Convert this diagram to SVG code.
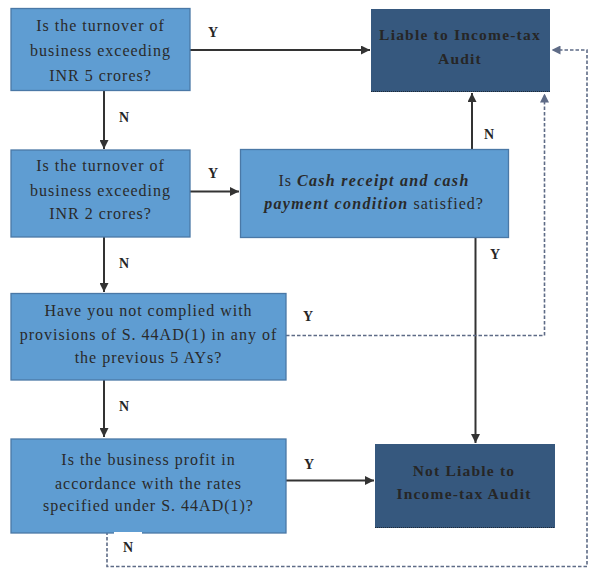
<svg xmlns="http://www.w3.org/2000/svg" width="594" height="581" viewBox="0 0 594 581">
<style>
.q{fill:#5f9dd2;stroke:#4a78a6;stroke-width:1.3}
.r{fill:#36587e}
.e{stroke:#1e2a38;stroke-width:1;stroke-dasharray:1 1}
.t{font-family:"Liberation Serif",serif;font-size:16px;fill:#2a2a2a;text-anchor:middle;letter-spacing:1px}
.tb{font-family:"Liberation Serif",serif;font-size:15.5px;font-weight:bold;fill:#262626;text-anchor:middle;letter-spacing:1.2px}
.bi{font-weight:bold;font-style:italic;letter-spacing:1.3px}
.lb{font-family:"Liberation Serif",serif;font-size:14px;font-weight:bold;fill:#262626;text-anchor:middle}
.s{fill:none;stroke:#333;stroke-width:2}
.d{fill:none;stroke:#5e6b86;stroke-width:1.6;stroke-dasharray:3.5 2}
</style>
<defs>
<marker id="a" viewBox="0 0 10 10" refX="10" refY="5" markerWidth="9" markerHeight="9" markerUnits="userSpaceOnUse" orient="auto"><path d="M0,0L10,5L0,10z" fill="#333"/></marker>
<marker id="ad" viewBox="0 0 10 10" refX="10" refY="5" markerWidth="9" markerHeight="9" markerUnits="userSpaceOnUse" orient="auto"><path d="M0,0L10,5L0,10z" fill="#5e6b86"/></marker>
</defs>
<g id="connectors">
<path class="s" d="M190,50H370" marker-end="url(#a)"/>
<path class="s" d="M104,90V149" marker-end="url(#a)"/>
<path class="s" d="M190,191.5H239" marker-end="url(#a)"/>
<path class="s" d="M472,149V93" marker-end="url(#a)"/>
<path class="s" d="M475.5,237V443" marker-end="url(#a)"/>
<path class="s" d="M104,237V292" marker-end="url(#a)"/>
<path class="s" d="M104,380V437" marker-end="url(#a)"/>
<path class="s" d="M286,480.5H374" marker-end="url(#a)"/>
<path class="d" d="M286,335.5H544.5V93.5" marker-end="url(#ad)"/>
<path class="d" d="M107,526V566.5H587V50H551.5" marker-end="url(#ad)"/>
</g>
<g id="n1"><rect class="q" x="11" y="8.5" width="179" height="82"/>
<text class="t" x="100.5" y="30.5">Is the turnover of</text>
<text class="t" x="100.5" y="55.5">business exceeding</text>
<text class="t" x="100.5" y="81">INR 5 crores?</text></g>
<g id="n2"><rect class="q" x="11" y="150" width="179" height="87"/>
<text class="t" x="100.5" y="171">Is the turnover of</text>
<text class="t" x="100.5" y="196">business exceeding</text>
<text class="t" x="100.5" y="219">INR 2 crores?</text></g>
<g id="n3"><rect class="q" x="240.5" y="149.5" width="268" height="88"/>
<text class="t" x="374" y="186">Is <tspan class="bi">Cash receipt and cash</tspan></text>
<text class="t" x="374" y="209"><tspan class="bi">payment condition</tspan> satisfied?</text></g>
<g id="n4"><rect class="r" x="371" y="9" width="179" height="83"/>
<line class="e" x1="371" y1="91.5" x2="550" y2="91.5"/>
<text class="tb" x="460" y="40">Liable to Income-tax</text>
<text class="tb" x="460" y="64">Audit</text></g>
<g id="n5"><rect class="q" x="11" y="293.5" width="275" height="86.5"/>
<text class="t" x="148.5" y="316">Have you not complied with</text>
<text class="t" x="148.5" y="339.5">provisions of S. 44AD(1) in any of</text>
<text class="t" x="148.5" y="363">the previous 5 AYs?</text></g>
<g id="n6"><rect class="q" x="11" y="439" width="275" height="94"/>
<text class="t" x="148.5" y="465">Is the business profit in</text>
<text class="t" x="148.5" y="488.5">accordance with the rates</text>
<text class="t" x="148.5" y="511">specified under S. 44AD(1)?</text></g>
<g id="n7"><rect class="r" x="375" y="444" width="180" height="84"/>
<line class="e" x1="375" y1="527.5" x2="555" y2="527.5"/>
<text class="tb" x="464" y="476">Not Liable to</text>
<text class="tb" x="464" y="499">Income-tax Audit</text></g>
<g id="labels">
<rect x="114" y="532" width="28" height="24" fill="#fff"/>
<text class="lb" x="213" y="36.5">Y</text>
<text class="lb" x="124" y="122">N</text>
<text class="lb" x="213" y="178">Y</text>
<text class="lb" x="489" y="138.5">N</text>
<text class="lb" x="124" y="268">N</text>
<text class="lb" x="495" y="259">Y</text>
<text class="lb" x="308" y="321">Y</text>
<text class="lb" x="124" y="411">N</text>
<text class="lb" x="309" y="469">Y</text>
<text class="lb" x="128" y="552">N</text>
</g>
</svg>
